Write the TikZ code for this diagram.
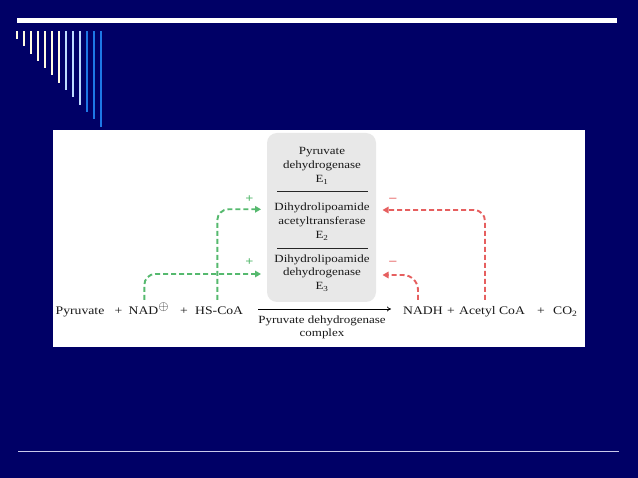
\documentclass[tikz,border=0pt]{standalone}
\usepackage{fontspec}
\setmainfont[FakeStretch=1.18]{Liberation Serif}
\usetikzlibrary{arrows.meta}
\definecolor{navybg}{RGB}{0,0,102}
\definecolor{creambar}{RGB}{255,250,225}
\definecolor{palebar}{RGB}{190,220,255}
\definecolor{bluebar}{RGB}{30,120,230}
\definecolor{actgreen}{RGB}{85,185,110}
\definecolor{inhred}{RGB}{230,95,95}
\definecolor{boxgray}{RGB}{232,232,232}
\definecolor{linelav}{RGB}{200,200,235}
\tikzset{
  txt/.style={inner sep=0pt, anchor=base, font=\fontsize{11}{13}\selectfont, text=black!90},
  txtw/.style={inner sep=0pt, anchor=base west, font=\fontsize{11.6}{13}\selectfont, text=black!90},
  actarrow/.style={draw=actgreen, line width=1.9pt, dash pattern=on 5pt off 3pt, rounded corners=11pt, -{Triangle[length=6pt,width=6.5pt]}},
  inharrow/.style={draw=inhred, line width=1.9pt, dash pattern=on 5pt off 3pt, rounded corners=11pt, -{Triangle[length=6pt,width=6.5pt]}},
  plussign/.style={inner sep=0pt, text=actgreen, font=\fontsize{12}{12}\selectfont\bfseries},
  minussign/.style={inner sep=0pt, text=inhred, font=\fontsize{12}{12}\selectfont\bfseries},
  sepline/.style={line width=0.8pt, black!85},
}
\begin{document}
\begin{tikzpicture}[x=1pt,y=-1pt]
\useasboundingbox (0,0) rectangle (638,478);
\fill[navybg] (0,0) rectangle (638,478);
% top bar and bottom line
\fill[white] (17,18) rectangle (617,23.5);
\draw[linelav, line width=1pt] (18,451.5) -- (619,451.5);
% decorative bars
\foreach \i in {0,...,12}{
  \pgfmathsetmacro{\bx}{17+7*\i}
  \pgfmathsetmacro{\by}{39+7.3*\i}
  \ifnum\i<7 \def\bc{creambar}\else\ifnum\i<10 \def\bc{palebar}\else\def\bc{bluebar}\fi\fi
  \fill[\bc] (\bx-1.3,31) rectangle (\bx+1.3,\by);
}
% white panel
\fill[white] (53,130) rectangle (585,347);
% enzyme complex box
\node[fill=boxgray, rounded corners=10pt, minimum width=109pt, minimum height=169pt, inner sep=0pt] (box) at (321.5,217.5) {};
\node[txt] (e1a) at (322,155) {Pyruvate};
\node[txt] (e1b) at (322,169) {dehydrogenase};
\node[txt] (e1c) at (322,183) {E\textsubscript{1}};
\draw[sepline] (277,191.7) -- (368,191.7);
\node[txt] (e2a) at (322,211) {Dihydrolipoamide};
\node[txt] (e2b) at (322,224.5) {acetyltransferase};
\node[txt] (e2c) at (322,238.5) {E\textsubscript{2}};
\draw[sepline] (277,248.3) -- (368,248.3);
\node[txt] (e3a) at (322,262.5) {Dihydrolipoamide};
\node[txt] (e3b) at (322,276) {dehydrogenase};
\node[txt] (e3c) at (322,289.5) {E\textsubscript{3}};
% reaction
\node[txtw] (pyr) at (55.5,315) {Pyruvate};
\node[txtw] (p1) at (114.5,315) {+};
\node[txtw] (nad) at (128.5,315) {NAD\raisebox{4pt}{\scalebox{1.1}{$\oplus$}}};
\node[txtw] (p2) at (180,315) {+};
\node[txtw] (hs) at (195,315) {HS-CoA};
\node[txtw] (nadh) at (403,315) {NADH};
\node[txtw] (p3) at (447,315) {+};
\node[txtw] (acoa) at (459,315) {Acetyl CoA};
\node[txtw] (p4) at (537,315) {+};
\node[txtw] (co2) at (553,315) {CO\textsubscript{2}};
\coordinate (rs) at (258,309);
\coordinate (re) at (391,309);
\draw[line width=0.7pt, -{To[length=4pt,width=5pt]}] (rs) -- (re);
\node[txt] (cx1) at (322,323.3) {Pyruvate dehydrogenase};
\node[txt] (cx2) at (322,336.7) {complex};
% activation / inhibition arrows
\coordinate (g1s) at (217.3,300);
\coordinate (g1e) at (261,209.3);
\coordinate (g2s) at (144.3,300);
\coordinate (g2e) at (261,274);
\coordinate (r1s) at (485,300);
\coordinate (r1e) at (382.5,210);
\coordinate (r2s) at (418,300);
\coordinate (r2e) at (382.5,275);
\draw[actarrow] (g1s) |- (g1e);
\draw[actarrow] (g2s) |- (g2e);
\draw[inharrow] (r1s) |- (r1e);
\draw[inharrow, rounded corners=15pt] (r2s) |- (r2e);
\node[plussign] (pl1) at (249.3,199) {+};
\node[plussign] (pl2) at (249.3,262.5) {+};
\node[minussign] (mi1) at (393,199.5) {--};
\node[minussign] (mi2) at (393,263) {--};
\end{tikzpicture}
\end{document}
